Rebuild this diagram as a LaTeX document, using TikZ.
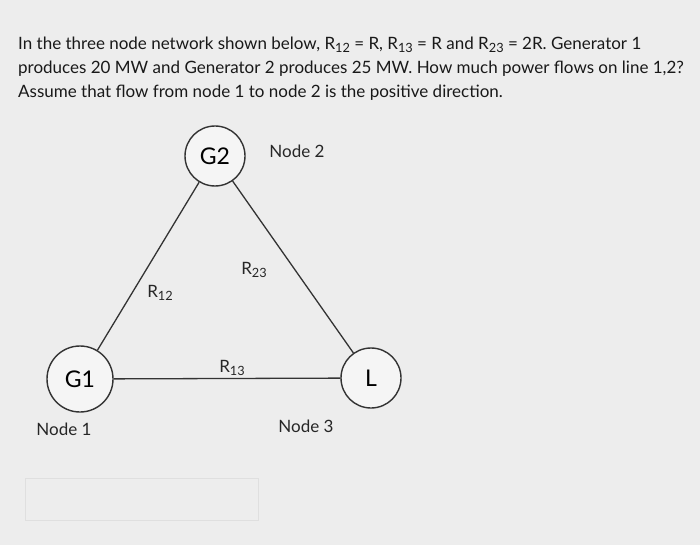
\documentclass[tikz,border=0pt]{standalone}
\usepackage{fontspec}
\setmainfont{Lato}
\newcommand{\mysub}[1]{\raisebox{-0.3ex}{\scalebox{0.75}{#1}}}
\begin{document}
\begin{tikzpicture}[x=1pt,y=-1pt,
  gen/.style={circle,draw=black!80,line width=1.4pt,fill=white!92!gray,minimum size=60pt,inner sep=0pt,font=\fontsize{23}{26}\selectfont},
  lbl/.style={font=\fontsize{17}{20}\selectfont,text=black!85},
  ln/.style={draw=black!80,line width=1.3pt}]
\fill[gray!14] (0,0) rectangle (700,545);
\useasboundingbox (0,0) rectangle (700,545);
\node[anchor=north west,align=left,font=\fontsize{17}{24}\selectfont,text=black!90,inner sep=0pt] (q) at (18,37)
{In the three node network shown below, R\mysub{12} = R, R\mysub{13} = R and R\mysub{23} = 2R. Generator 1\\
produces 20 MW and Generator 2 produces 25 MW. How much power flows on line 1,2?\\
Assume that flow from node 1 to node 2 is the positive direction.};
\node[gen] (g2) at (215,156) {G2};
\node[gen,minimum size=66pt] (g1) at (80,379) {G1};
\node[gen] (l) at (371,378) {L};
\draw[ln] (g2) -- (g1);
\draw[ln] (g2) -- (l);
\draw[ln] (g1) -- (l);
\node[lbl] (n2) at (297,151) {Node 2};
\node[lbl] (n1) at (64,429) {Node 1};
\node[lbl] (n3) at (306,426) {Node 3};
\node[lbl] (r12) at (160,293) {R\mysub{12}};
\node[lbl] (r23) at (254,270) {R\mysub{23}};
\node[lbl] (r13) at (232,368) {R\mysub{13}};
\draw[gray!25,line width=0.8pt] (25,478) rectangle (258,520);
\end{tikzpicture}
\end{document}
